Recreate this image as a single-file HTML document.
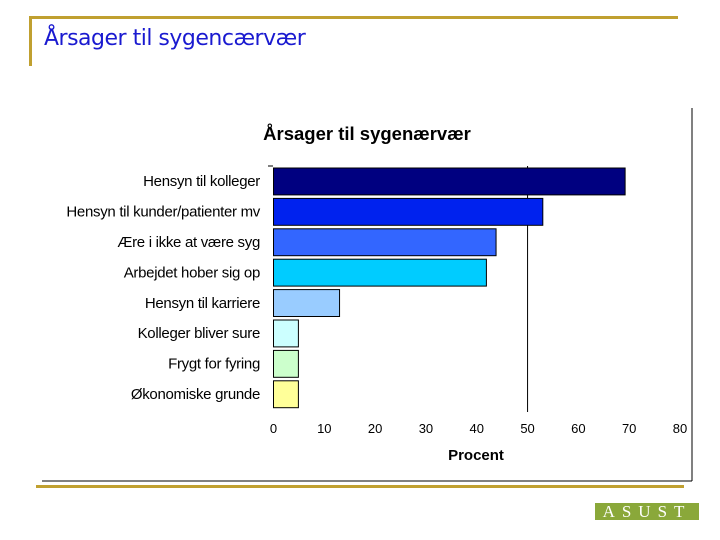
<!DOCTYPE html>
<html><head><meta charset="utf-8"><style>
body{margin:0;width:720px;height:540px;background:#fff;overflow:hidden;position:relative;font-family:"Liberation Sans",sans-serif}
</style></head><body>
<div style="position:absolute;left:29px;top:16px;width:649px;height:3px;background:#c0a030"></div>
<div style="position:absolute;left:29px;top:16px;width:3px;height:50px;background:#c0a030"></div>
<div style="position:absolute;left:44px;top:26px;font-family:'DejaVu Sans',sans-serif;font-size:22px;color:#1a1ad0;letter-spacing:-0.5px">Årsager til sygencærvær</div>
<div style="position:absolute;left:36px;top:485px;width:648px;height:3px;background:#c0a030"></div>
<div style="position:absolute;left:595px;top:503px;width:104px;height:17px;background:#8aa83a;color:#fff;font-family:'Liberation Serif',serif;font-size:17px;line-height:18px;text-align:center;letter-spacing:7px">ASUST</div>
<svg width="720" height="540" style="position:absolute;left:0;top:0">
<g id="g"></g>
</svg>
<script>
const categories=["Hensyn til kolleger","Hensyn til kunder/patienter mv","Ære i ikke at være syg","Arbejdet hober sig op","Hensyn til karriere","Kolleger bliver sure","Frygt for fyring","Økonomiske grunde"];
const values=[69.2,53,43.8,41.9,13,4.9,4.9,4.9];
const colors=["#000080","#0022ee","#3366ff","#00ccff","#99ccff","#ccffff","#ccffcc","#ffff99"];
const ticks=[0,10,20,30,40,50,60,70,80];
const refLine=50;
const ns="http://www.w3.org/2000/svg",g=document.getElementById('g');
const plotX0=273.5,plotX1=680,plotY0=166,band=30.4;
const xs=v=>plotX0+(plotX1-plotX0)*v/80;
function mk(t,a,txt){const e=document.createElementNS(ns,t);for(const k in a)e.setAttribute(k,a[k]);if(txt!=null)e.textContent=txt;g.appendChild(e);return e;}
let e;
e=mk('line',{x1:692,y1:108,x2:692,y2:481,stroke:'#000','stroke-width':1});

e=mk('line',{x1:42,y1:481,x2:692,y2:481,stroke:'#000','stroke-width':1});

e=mk('text',{x:367,y:140,'text-anchor':'middle','font-size':18.5,'font-weight':'bold'},'Årsager til sygenærvær');

e=mk('line',{x1:xs(refLine),y1:166,x2:xs(refLine),y2:412,stroke:'#000','stroke-width':1});

e=mk('line',{x1:268,y1:166,x2:273,y2:166,stroke:'#000'});

categories.forEach((c,i)=>{
 const y=plotY0+i*band+2;
 const b=mk('rect',{x:plotX0,y:y,width:xs(values[i])-plotX0,height:band-3.5,fill:colors[i],stroke:'#000','stroke-width':1});
 
 const t=mk('text',{x:260,y:y+band/2+3,'text-anchor':'end','font-size':15,'letter-spacing':'-0.3',fill:'#000'},c);
 
});
ticks.forEach(v=>{
 const t=mk('text',{x:xs(v),y:433,'text-anchor':'middle','font-size':13},v);
 
});
e=mk('text',{x:476,y:460,'text-anchor':'middle','font-size':15,'font-weight':'bold'},'Procent');

</script>
</body></html>
